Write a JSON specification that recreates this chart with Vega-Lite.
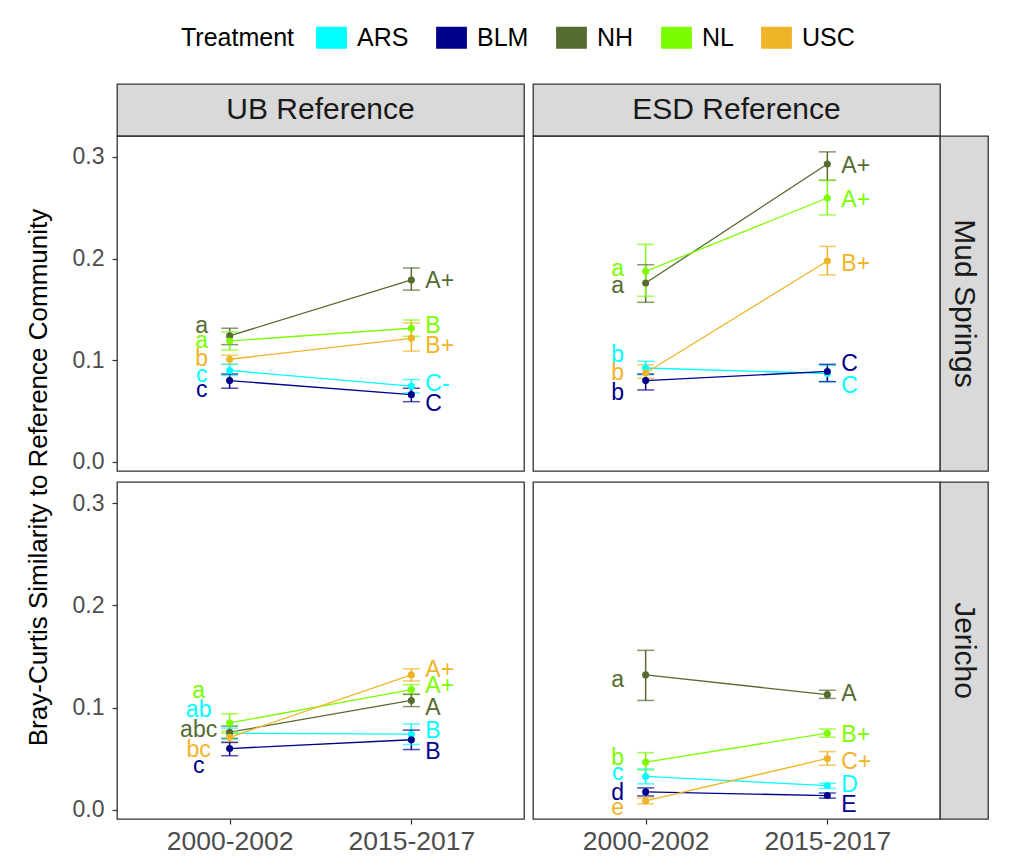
{
  "$schema": "https://vega.github.io/schema/vega-lite/v6.json",
  "padding": {"left": 24, "top": 25, "right": 5, "bottom": 5},
  "background": "white",
  "config": {
    "font": "Liberation Sans",
    "view": {"stroke": "#333333", "strokeWidth": 1.3},
    "axis": {"domain": false, "grid": false, "tickColor": "#333333", "tickWidth": 1.2, "labelColor": "#4D4D4D", "labelFont": "Liberation Sans", "titleFont": "Liberation Sans", "titleFontWeight": "normal", "titleColor": "#000000"},
    "axisY": {"labelFontSize": 23, "tickSize": 5, "labelPadding": 8},
    "legend": {"labelFont": "Liberation Sans", "titleFont": "Liberation Sans"}
  },
  "datasets": {
    "pts": [
      {"ref": "UB Reference", "site": "Mud Springs", "period": "2000-2002", "trt": "ARS", "mean": 0.090, "lo": 0.085, "hi": 0.096, "lab": "c", "lab_y": 0.0855},
      {"ref": "UB Reference", "site": "Mud Springs", "period": "2000-2002", "trt": "BLM", "mean": 0.080, "lo": 0.0725, "hi": 0.0865, "lab": "c", "lab_y": 0.0711},
      {"ref": "UB Reference", "site": "Mud Springs", "period": "2000-2002", "trt": "NH", "mean": 0.124, "lo": 0.1154, "hi": 0.1315, "lab": "a", "lab_y": 0.134},
      {"ref": "UB Reference", "site": "Mud Springs", "period": "2000-2002", "trt": "NL", "mean": 0.119, "lo": 0.110, "hi": 0.128, "lab": "a", "lab_y": 0.119},
      {"ref": "UB Reference", "site": "Mud Springs", "period": "2000-2002", "trt": "USC", "mean": 0.101, "lo": 0.096, "hi": 0.105, "lab": "b", "lab_y": 0.1013},
      {"ref": "UB Reference", "site": "Mud Springs", "period": "2015-2017", "trt": "ARS", "mean": 0.0745, "lo": 0.068, "hi": 0.081, "lab": "C-", "lab_y": 0.0767},
      {"ref": "UB Reference", "site": "Mud Springs", "period": "2015-2017", "trt": "BLM", "mean": 0.0662, "lo": 0.0593, "hi": 0.0725, "lab": "C", "lab_y": 0.057},
      {"ref": "UB Reference", "site": "Mud Springs", "period": "2015-2017", "trt": "NH", "mean": 0.179, "lo": 0.169, "hi": 0.1908, "lab": "A+", "lab_y": 0.178},
      {"ref": "UB Reference", "site": "Mud Springs", "period": "2015-2017", "trt": "NL", "mean": 0.1315, "lo": 0.1236, "hi": 0.1396, "lab": "B", "lab_y": 0.134},
      {"ref": "UB Reference", "site": "Mud Springs", "period": "2015-2017", "trt": "USC", "mean": 0.1216, "lo": 0.109, "hi": 0.1367, "lab": "B+", "lab_y": 0.1144},

      {"ref": "ESD Reference", "site": "Mud Springs", "period": "2000-2002", "trt": "ARS", "mean": 0.0924, "lo": 0.0858, "hi": 0.099, "lab": "b", "lab_y": 0.1055},
      {"ref": "ESD Reference", "site": "Mud Springs", "period": "2000-2002", "trt": "BLM", "mean": 0.080, "lo": 0.0708, "hi": 0.0865, "lab": "b", "lab_y": 0.068},
      {"ref": "ESD Reference", "site": "Mud Springs", "period": "2000-2002", "trt": "NH", "mean": 0.176, "lo": 0.157, "hi": 0.194, "lab": "a", "lab_y": 0.173},
      {"ref": "ESD Reference", "site": "Mud Springs", "period": "2000-2002", "trt": "NL", "mean": 0.1875, "lo": 0.163, "hi": 0.214, "lab": "a", "lab_y": 0.19},
      {"ref": "ESD Reference", "site": "Mud Springs", "period": "2000-2002", "trt": "USC", "mean": 0.0875, "lo": 0.0823, "hi": 0.0954, "lab": "b", "lab_y": 0.0875},
      {"ref": "ESD Reference", "site": "Mud Springs", "period": "2015-2017", "trt": "ARS", "mean": 0.087, "lo": 0.079, "hi": 0.095, "lab": "C", "lab_y": 0.075},
      {"ref": "ESD Reference", "site": "Mud Springs", "period": "2015-2017", "trt": "BLM", "mean": 0.089, "lo": 0.079, "hi": 0.096, "lab": "C", "lab_y": 0.096},
      {"ref": "ESD Reference", "site": "Mud Springs", "period": "2015-2017", "trt": "NH", "mean": 0.293, "lo": 0.277, "hi": 0.305, "lab": "A+", "lab_y": 0.291},
      {"ref": "ESD Reference", "site": "Mud Springs", "period": "2015-2017", "trt": "NL", "mean": 0.2596, "lo": 0.243, "hi": 0.277, "lab": "A+", "lab_y": 0.258},
      {"ref": "ESD Reference", "site": "Mud Springs", "period": "2015-2017", "trt": "USC", "mean": 0.1976, "lo": 0.184, "hi": 0.212, "lab": "B+", "lab_y": 0.195},

      {"ref": "UB Reference", "site": "Jericho", "period": "2000-2002", "trt": "ARS", "mean": 0.075, "lo": 0.069, "hi": 0.080, "lab": "ab", "lab_y": 0.098},
      {"ref": "UB Reference", "site": "Jericho", "period": "2000-2002", "trt": "BLM", "mean": 0.060, "lo": 0.053, "hi": 0.066, "lab": "c", "lab_y": 0.0425},
      {"ref": "UB Reference", "site": "Jericho", "period": "2000-2002", "trt": "NH", "mean": 0.076, "lo": 0.070, "hi": 0.082, "lab": "abc", "lab_y": 0.078},
      {"ref": "UB Reference", "site": "Jericho", "period": "2000-2002", "trt": "NL", "mean": 0.085, "lo": 0.075, "hi": 0.094, "lab": "a", "lab_y": 0.116},
      {"ref": "UB Reference", "site": "Jericho", "period": "2000-2002", "trt": "USC", "mean": 0.071, "lo": 0.066, "hi": 0.077, "lab": "bc", "lab_y": 0.059},
      {"ref": "UB Reference", "site": "Jericho", "period": "2015-2017", "trt": "ARS", "mean": 0.074, "lo": 0.064, "hi": 0.084, "lab": "B", "lab_y": 0.077},
      {"ref": "UB Reference", "site": "Jericho", "period": "2015-2017", "trt": "BLM", "mean": 0.0686, "lo": 0.059, "hi": 0.078, "lab": "B", "lab_y": 0.057},
      {"ref": "UB Reference", "site": "Jericho", "period": "2015-2017", "trt": "NH", "mean": 0.107, "lo": 0.101, "hi": 0.113, "lab": "A", "lab_y": 0.100},
      {"ref": "UB Reference", "site": "Jericho", "period": "2015-2017", "trt": "NL", "mean": 0.1176, "lo": 0.113, "hi": 0.1225, "lab": "A+", "lab_y": 0.121},
      {"ref": "UB Reference", "site": "Jericho", "period": "2015-2017", "trt": "USC", "mean": 0.132, "lo": 0.126, "hi": 0.138, "lab": "A+", "lab_y": 0.137},

      {"ref": "ESD Reference", "site": "Jericho", "period": "2000-2002", "trt": "ARS", "mean": 0.0327, "lo": 0.0255, "hi": 0.040, "lab": "c", "lab_y": 0.036},
      {"ref": "ESD Reference", "site": "Jericho", "period": "2000-2002", "trt": "BLM", "mean": 0.0176, "lo": 0.0137, "hi": 0.0215, "lab": "d", "lab_y": 0.017},
      {"ref": "ESD Reference", "site": "Jericho", "period": "2000-2002", "trt": "NH", "mean": 0.132, "lo": 0.107, "hi": 0.156, "lab": "a", "lab_y": 0.127},
      {"ref": "ESD Reference", "site": "Jericho", "period": "2000-2002", "trt": "NL", "mean": 0.0467, "lo": 0.039, "hi": 0.056, "lab": "b", "lab_y": 0.051},
      {"ref": "ESD Reference", "site": "Jericho", "period": "2000-2002", "trt": "USC", "mean": 0.0088, "lo": 0.006, "hi": 0.012, "lab": "e", "lab_y": 0.0016},
      {"ref": "ESD Reference", "site": "Jericho", "period": "2015-2017", "trt": "ARS", "mean": 0.0238, "lo": 0.021, "hi": 0.026, "lab": "D", "lab_y": 0.0245},
      {"ref": "ESD Reference", "site": "Jericho", "period": "2015-2017", "trt": "BLM", "mean": 0.014, "lo": 0.0115, "hi": 0.0165, "lab": "E", "lab_y": 0.005},
      {"ref": "ESD Reference", "site": "Jericho", "period": "2015-2017", "trt": "NH", "mean": 0.1127, "lo": 0.109, "hi": 0.117, "lab": "A", "lab_y": 0.113},
      {"ref": "ESD Reference", "site": "Jericho", "period": "2015-2017", "trt": "NL", "mean": 0.075, "lo": 0.071, "hi": 0.079, "lab": "B+", "lab_y": 0.0735},
      {"ref": "ESD Reference", "site": "Jericho", "period": "2015-2017", "trt": "USC", "mean": 0.0503, "lo": 0.0437, "hi": 0.057, "lab": "C+", "lab_y": 0.047}
    ]
  },
  "columns": 4,
  "spacing": 0,
  "bounds": "flush",
  "concat": [
    {
      "width": 407, "height": 52,
      "view": {"fill": "#D9D9D9", "stroke": "#333333", "strokeWidth": 1.3},
      "data": {"values": [{"strip": "UB Reference"}]},
      "mark": {"type": "text", "fontSize": 30, "color": "#1A1A1A", "baseline": "middle", "align": "center"},
      "encoding": {"text": {"field": "strip"}}
    },
    {"width": 9, "height": 11, "view": {"stroke": null}, "data": {"values": []}, "mark": "point"},
    {
      "width": 407, "height": 52,
      "view": {"fill": "#D9D9D9", "stroke": "#333333", "strokeWidth": 1.3},
      "data": {"values": [{"strip": "ESD Reference"}]},
      "mark": {"type": "text", "fontSize": 30, "color": "#1A1A1A", "baseline": "middle", "align": "center"},
      "encoding": {"text": {"field": "strip"}}
    },
    {"width": 9, "height": 11, "view": {"stroke": null}, "data": {"values": []}, "mark": "point"},

    {
      "width": 407, "height": 335,
      "data": {"name": "pts"},
      "transform": [{"filter": "datum.ref == 'UB Reference' && datum.site == 'Mud Springs'"}],
      "encoding": {
        "x": {"field": "period", "type": "ordinal", "scale": {"type": "point", "padding": 0.62, "domain": ["2000-2002", "2015-2017"]}, "axis": null},
        "color": {"field": "trt", "type": "nominal", "scale": {"domain": ["ARS", "BLM", "NH", "NL", "USC"], "range": ["#00FFFF", "#00008B", "#556B2F", "#7CFC00", "#F0B428"]},
          "legend": {"title": "Treatment", "orient": "none", "legendX": 64, "legendY": -59, "direction": "horizontal", "titleOrient": "left", "titleFontSize": 25, "titleFontWeight": "normal", "titleColor": "#000000", "labelFontSize": 25, "labelColor": "#000000", "symbolType": "M-1.4,-1H1.4V1H-1.4Z", "symbolSize": 484, "symbolStrokeWidth": 0, "symbolOpacity": 1, "labelOffset": 13, "columnPadding": 27, "titlePadding": 24}}
      },
      "layer": [
        {"mark": {"type": "line", "strokeWidth": 1.3}, "encoding": {"y": {"field": "mean", "type": "quantitative", "scale": {"domain": [-0.0089, 0.3206], "nice": false, "zero": false}, "axis": {"values": [0, 0.1, 0.2, 0.3], "format": ".1f", "title": "Bray-Curtis Similarity to Reference Community", "titleFontSize": 26, "titleY": 341, "titleAlign": "center", "titlePadding": 21}}}},
        {"mark": {"type": "rule", "strokeWidth": 1.5}, "encoding": {"y": {"field": "lo", "type": "quantitative", "scale": {"domain": [-0.0089, 0.3206], "nice": false, "zero": false}, "axis": {"values": [0, 0.1, 0.2, 0.3], "format": ".1f", "title": "Bray-Curtis Similarity to Reference Community", "titleFontSize": 26, "titleY": 341, "titleAlign": "center", "titlePadding": 21}}, "y2": {"field": "hi"}}},
        {"mark": {"type": "tick", "size": 17, "thickness": 1.5}, "encoding": {"y": {"field": "lo", "type": "quantitative", "scale": {"domain": [-0.0089, 0.3206], "nice": false, "zero": false}, "axis": {"values": [0, 0.1, 0.2, 0.3], "format": ".1f", "title": "Bray-Curtis Similarity to Reference Community", "titleFontSize": 26, "titleY": 341, "titleAlign": "center", "titlePadding": 21}}}},
        {"mark": {"type": "tick", "size": 17, "thickness": 1.5}, "encoding": {"y": {"field": "hi", "type": "quantitative", "scale": {"domain": [-0.0089, 0.3206], "nice": false, "zero": false}, "axis": {"values": [0, 0.1, 0.2, 0.3], "format": ".1f", "title": "Bray-Curtis Similarity to Reference Community", "titleFontSize": 26, "titleY": 341, "titleAlign": "center", "titlePadding": 21}}}},
        {"mark": {"type": "point", "filled": true, "size": 50, "opacity": 1}, "encoding": {"y": {"field": "mean", "type": "quantitative", "scale": {"domain": [-0.0089, 0.3206], "nice": false, "zero": false}, "axis": {"values": [0, 0.1, 0.2, 0.3], "format": ".1f", "title": "Bray-Curtis Similarity to Reference Community", "titleFontSize": 26, "titleY": 341, "titleAlign": "center", "titlePadding": 21}}}},
        {"transform": [{"filter": "datum.period == '2000-2002'"}], "mark": {"type": "text", "align": "center", "baseline": "middle", "dx": -28, "fontSize": 23}, "encoding": {"y": {"field": "lab_y", "type": "quantitative", "scale": {"domain": [-0.0089, 0.3206], "nice": false, "zero": false}, "axis": {"values": [0, 0.1, 0.2, 0.3], "format": ".1f", "title": "Bray-Curtis Similarity to Reference Community", "titleFontSize": 26, "titleY": 341, "titleAlign": "center", "titlePadding": 21}}, "text": {"field": "lab"}}},
        {"transform": [{"filter": "datum.period == '2015-2017'"}], "mark": {"type": "text", "align": "left", "baseline": "middle", "dx": 14, "fontSize": 23}, "encoding": {"y": {"field": "lab_y", "type": "quantitative", "scale": {"domain": [-0.0089, 0.3206], "nice": false, "zero": false}, "axis": {"values": [0, 0.1, 0.2, 0.3], "format": ".1f", "title": "Bray-Curtis Similarity to Reference Community", "titleFontSize": 26, "titleY": 341, "titleAlign": "center", "titlePadding": 21}}, "text": {"field": "lab"}}}
      ]
    },
    {"width": 9, "height": 11, "view": {"stroke": null}, "data": {"values": []}, "mark": "point"},
    {
      "width": 407, "height": 335,
      "data": {"name": "pts"},
      "transform": [{"filter": "datum.ref == 'ESD Reference' && datum.site == 'Mud Springs'"}],
      "encoding": {
        "x": {"field": "period", "type": "ordinal", "scale": {"type": "point", "padding": 0.62, "domain": ["2000-2002", "2015-2017"]}, "axis": null},
        "color": {"field": "trt", "type": "nominal", "scale": {"domain": ["ARS", "BLM", "NH", "NL", "USC"], "range": ["#00FFFF", "#00008B", "#556B2F", "#7CFC00", "#F0B428"]},
          "legend": {"title": "Treatment", "orient": "none", "legendX": 64, "legendY": -59, "direction": "horizontal", "titleOrient": "left", "titleFontSize": 25, "titleFontWeight": "normal", "titleColor": "#000000", "labelFontSize": 25, "labelColor": "#000000", "symbolType": "M-1.4,-1H1.4V1H-1.4Z", "symbolSize": 484, "symbolStrokeWidth": 0, "symbolOpacity": 1, "labelOffset": 13, "columnPadding": 27, "titlePadding": 24}}
      },
      "layer": [
        {"mark": {"type": "line", "strokeWidth": 1.3}, "encoding": {"y": {"field": "mean", "type": "quantitative", "scale": {"domain": [-0.0089, 0.3206], "nice": false, "zero": false}, "axis": null}}},
        {"mark": {"type": "rule", "strokeWidth": 1.5}, "encoding": {"y": {"field": "lo", "type": "quantitative", "scale": {"domain": [-0.0089, 0.3206], "nice": false, "zero": false}, "axis": null}, "y2": {"field": "hi"}}},
        {"mark": {"type": "tick", "size": 17, "thickness": 1.5}, "encoding": {"y": {"field": "lo", "type": "quantitative", "scale": {"domain": [-0.0089, 0.3206], "nice": false, "zero": false}, "axis": null}}},
        {"mark": {"type": "tick", "size": 17, "thickness": 1.5}, "encoding": {"y": {"field": "hi", "type": "quantitative", "scale": {"domain": [-0.0089, 0.3206], "nice": false, "zero": false}, "axis": null}}},
        {"mark": {"type": "point", "filled": true, "size": 50, "opacity": 1}, "encoding": {"y": {"field": "mean", "type": "quantitative", "scale": {"domain": [-0.0089, 0.3206], "nice": false, "zero": false}, "axis": null}}},
        {"transform": [{"filter": "datum.period == '2000-2002'"}], "mark": {"type": "text", "align": "center", "baseline": "middle", "dx": -28, "fontSize": 23}, "encoding": {"y": {"field": "lab_y", "type": "quantitative", "scale": {"domain": [-0.0089, 0.3206], "nice": false, "zero": false}, "axis": null}, "text": {"field": "lab"}}},
        {"transform": [{"filter": "datum.period == '2015-2017'"}], "mark": {"type": "text", "align": "left", "baseline": "middle", "dx": 14, "fontSize": 23}, "encoding": {"y": {"field": "lab_y", "type": "quantitative", "scale": {"domain": [-0.0089, 0.3206], "nice": false, "zero": false}, "axis": null}, "text": {"field": "lab"}}}
      ]
    },
    {
      "width": 48, "height": 335,
      "view": {"fill": "#D9D9D9", "stroke": "#333333", "strokeWidth": 1.3},
      "data": {"values": [{"strip": "Mud Springs"}]},
      "mark": {"type": "text", "fontSize": 30, "color": "#1A1A1A", "baseline": "middle", "align": "center", "angle": 90},
      "encoding": {"text": {"field": "strip"}}
    },

    {"width": 9, "height": 11, "view": {"stroke": null}, "data": {"values": []}, "mark": "point"},
    {"width": 9, "height": 11, "view": {"stroke": null}, "data": {"values": []}, "mark": "point"},
    {"width": 9, "height": 11, "view": {"stroke": null}, "data": {"values": []}, "mark": "point"},
    {"width": 9, "height": 11, "view": {"stroke": null}, "data": {"values": []}, "mark": "point"},

    {
      "width": 407, "height": 337,
      "data": {"name": "pts"},
      "transform": [{"filter": "datum.ref == 'UB Reference' && datum.site == 'Jericho'"}],
      "encoding": {
        "x": {"field": "period", "type": "ordinal", "scale": {"type": "point", "padding": 0.62, "domain": ["2000-2002", "2015-2017"]}, "axis": {"title": null, "labelAngle": 0, "labelFontSize": 26.5, "tickSize": 5, "labelPadding": 4}},
        "color": {"field": "trt", "type": "nominal", "scale": {"domain": ["ARS", "BLM", "NH", "NL", "USC"], "range": ["#00FFFF", "#00008B", "#556B2F", "#7CFC00", "#F0B428"]},
          "legend": {"title": "Treatment", "orient": "none", "legendX": 64, "legendY": -59, "direction": "horizontal", "titleOrient": "left", "titleFontSize": 25, "titleFontWeight": "normal", "titleColor": "#000000", "labelFontSize": 25, "labelColor": "#000000", "symbolType": "M-1.4,-1H1.4V1H-1.4Z", "symbolSize": 484, "symbolStrokeWidth": 0, "symbolOpacity": 1, "labelOffset": 13, "columnPadding": 27, "titlePadding": 24}}
      },
      "layer": [
        {"mark": {"type": "line", "strokeWidth": 1.3}, "encoding": {"y": {"field": "mean", "type": "quantitative", "scale": {"domain": [-0.0089, 0.3206], "nice": false, "zero": false}, "axis": {"values": [0, 0.1, 0.2, 0.3], "format": ".1f", "title": null}}}},
        {"mark": {"type": "rule", "strokeWidth": 1.5}, "encoding": {"y": {"field": "lo", "type": "quantitative", "scale": {"domain": [-0.0089, 0.3206], "nice": false, "zero": false}, "axis": {"values": [0, 0.1, 0.2, 0.3], "format": ".1f", "title": null}}, "y2": {"field": "hi"}}},
        {"mark": {"type": "tick", "size": 17, "thickness": 1.5}, "encoding": {"y": {"field": "lo", "type": "quantitative", "scale": {"domain": [-0.0089, 0.3206], "nice": false, "zero": false}, "axis": {"values": [0, 0.1, 0.2, 0.3], "format": ".1f", "title": null}}}},
        {"mark": {"type": "tick", "size": 17, "thickness": 1.5}, "encoding": {"y": {"field": "hi", "type": "quantitative", "scale": {"domain": [-0.0089, 0.3206], "nice": false, "zero": false}, "axis": {"values": [0, 0.1, 0.2, 0.3], "format": ".1f", "title": null}}}},
        {"mark": {"type": "point", "filled": true, "size": 50, "opacity": 1}, "encoding": {"y": {"field": "mean", "type": "quantitative", "scale": {"domain": [-0.0089, 0.3206], "nice": false, "zero": false}, "axis": {"values": [0, 0.1, 0.2, 0.3], "format": ".1f", "title": null}}}},
        {"transform": [{"filter": "datum.period == '2000-2002'"}], "mark": {"type": "text", "align": "center", "baseline": "middle", "dx": -31, "fontSize": 23}, "encoding": {"y": {"field": "lab_y", "type": "quantitative", "scale": {"domain": [-0.0089, 0.3206], "nice": false, "zero": false}, "axis": {"values": [0, 0.1, 0.2, 0.3], "format": ".1f", "title": null}}, "text": {"field": "lab"}}},
        {"transform": [{"filter": "datum.period == '2015-2017'"}], "mark": {"type": "text", "align": "left", "baseline": "middle", "dx": 14, "fontSize": 23}, "encoding": {"y": {"field": "lab_y", "type": "quantitative", "scale": {"domain": [-0.0089, 0.3206], "nice": false, "zero": false}, "axis": {"values": [0, 0.1, 0.2, 0.3], "format": ".1f", "title": null}}, "text": {"field": "lab"}}}
      ]
    },
    {"width": 9, "height": 11, "view": {"stroke": null}, "data": {"values": []}, "mark": "point"},
    {
      "width": 407, "height": 337,
      "data": {"name": "pts"},
      "transform": [{"filter": "datum.ref == 'ESD Reference' && datum.site == 'Jericho'"}],
      "encoding": {
        "x": {"field": "period", "type": "ordinal", "scale": {"type": "point", "padding": 0.62, "domain": ["2000-2002", "2015-2017"]}, "axis": {"title": null, "labelAngle": 0, "labelFontSize": 26.5, "tickSize": 5, "labelPadding": 4}},
        "color": {"field": "trt", "type": "nominal", "scale": {"domain": ["ARS", "BLM", "NH", "NL", "USC"], "range": ["#00FFFF", "#00008B", "#556B2F", "#7CFC00", "#F0B428"]},
          "legend": {"title": "Treatment", "orient": "none", "legendX": 64, "legendY": -59, "direction": "horizontal", "titleOrient": "left", "titleFontSize": 25, "titleFontWeight": "normal", "titleColor": "#000000", "labelFontSize": 25, "labelColor": "#000000", "symbolType": "M-1.4,-1H1.4V1H-1.4Z", "symbolSize": 484, "symbolStrokeWidth": 0, "symbolOpacity": 1, "labelOffset": 13, "columnPadding": 27, "titlePadding": 24}}
      },
      "layer": [
        {"mark": {"type": "line", "strokeWidth": 1.3}, "encoding": {"y": {"field": "mean", "type": "quantitative", "scale": {"domain": [-0.0089, 0.3206], "nice": false, "zero": false}, "axis": null}}},
        {"mark": {"type": "rule", "strokeWidth": 1.5}, "encoding": {"y": {"field": "lo", "type": "quantitative", "scale": {"domain": [-0.0089, 0.3206], "nice": false, "zero": false}, "axis": null}, "y2": {"field": "hi"}}},
        {"mark": {"type": "tick", "size": 17, "thickness": 1.5}, "encoding": {"y": {"field": "lo", "type": "quantitative", "scale": {"domain": [-0.0089, 0.3206], "nice": false, "zero": false}, "axis": null}}},
        {"mark": {"type": "tick", "size": 17, "thickness": 1.5}, "encoding": {"y": {"field": "hi", "type": "quantitative", "scale": {"domain": [-0.0089, 0.3206], "nice": false, "zero": false}, "axis": null}}},
        {"mark": {"type": "point", "filled": true, "size": 50, "opacity": 1}, "encoding": {"y": {"field": "mean", "type": "quantitative", "scale": {"domain": [-0.0089, 0.3206], "nice": false, "zero": false}, "axis": null}}},
        {"transform": [{"filter": "datum.period == '2000-2002'"}], "mark": {"type": "text", "align": "center", "baseline": "middle", "dx": -28, "fontSize": 23}, "encoding": {"y": {"field": "lab_y", "type": "quantitative", "scale": {"domain": [-0.0089, 0.3206], "nice": false, "zero": false}, "axis": null}, "text": {"field": "lab"}}},
        {"transform": [{"filter": "datum.period == '2015-2017'"}], "mark": {"type": "text", "align": "left", "baseline": "middle", "dx": 14, "fontSize": 23}, "encoding": {"y": {"field": "lab_y", "type": "quantitative", "scale": {"domain": [-0.0089, 0.3206], "nice": false, "zero": false}, "axis": null}, "text": {"field": "lab"}}}
      ]
    },
    {
      "width": 48, "height": 337,
      "view": {"fill": "#D9D9D9", "stroke": "#333333", "strokeWidth": 1.3},
      "data": {"values": [{"strip": "Jericho"}]},
      "mark": {"type": "text", "fontSize": 30, "color": "#1A1A1A", "baseline": "middle", "align": "center", "angle": 90},
      "encoding": {"text": {"field": "strip"}}
    }
  ]
}
